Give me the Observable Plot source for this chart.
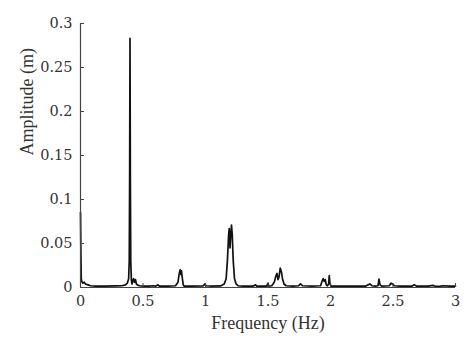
<!DOCTYPE html>
<html>
<head>
<meta charset="utf-8">
<script src="https://cdn.jsdelivr.net/npm/d3@7"></script>
<script src="https://cdn.jsdelivr.net/npm/@observablehq/plot@0.6"></script>
<style>
  html, body { margin: 0; padding: 0; background: #fff; }
</style>
</head>
<body>
<div id="chart"></div>
<script>
const freq = [0, 0.003, 0.006, 0.012, 0.02, 0.03, 0.04, 0.06, 0.08, 0.12, 0.2, 0.28, 0.33, 0.36, 0.375, 0.385, 0.39, 0.393, 0.396, 0.399, 0.402, 0.407, 0.412, 0.418, 0.425, 0.432, 0.44, 0.447, 0.455, 0.47, 0.5, 0.55, 0.58, 0.6, 0.62, 0.63, 0.7, 0.76, 0.78, 0.79, 0.797, 0.803, 0.808, 0.815, 0.822, 0.83, 0.9, 0.98, 0.995, 1.005, 1.05, 1.12, 1.15, 1.165, 1.175, 1.185, 1.19, 1.196, 1.202, 1.208, 1.214, 1.222, 1.232, 1.245, 1.26, 1.3, 1.38, 1.4, 1.41, 1.49, 1.5, 1.505, 1.53, 1.55, 1.563, 1.572, 1.58, 1.588, 1.598, 1.607, 1.616, 1.628, 1.645, 1.7, 1.745, 1.76, 1.775, 1.85, 1.92, 1.935, 1.942, 1.95, 1.958, 1.966, 1.975, 1.985, 1.99, 1.996, 2.005, 2.1, 2.28, 2.3, 2.315, 2.33, 2.36, 2.38, 2.388, 2.396, 2.41, 2.47, 2.485, 2.495, 2.51, 2.55, 2.65, 2.67, 2.69, 2.78, 2.82, 2.84, 2.88, 2.9, 2.95, 3.0];
const amplitude = [0.085, 0.04, 0.01, 0.006, 0.005, 0.006, 0.004, 0.003, 0.002, 0.0015, 0.0015, 0.0018, 0.002, 0.003, 0.005, 0.01, 0.03, 0.12, 0.283, 0.12, 0.03, 0.008, 0.004, 0.008, 0.01, 0.006, 0.009, 0.004, 0.003, 0.002, 0.0015, 0.0015, 0.002, 0.0015, 0.003, 0.0015, 0.0015, 0.002, 0.006, 0.016, 0.02, 0.015, 0.019, 0.01, 0.003, 0.0015, 0.0015, 0.0018, 0.004, 0.002, 0.0015, 0.0018, 0.004, 0.01, 0.03, 0.06, 0.067, 0.045, 0.06, 0.071, 0.06, 0.03, 0.01, 0.004, 0.002, 0.0015, 0.0015, 0.003, 0.0015, 0.0015, 0.005, 0.0015, 0.002, 0.006, 0.013, 0.016, 0.009, 0.012, 0.022, 0.018, 0.01, 0.004, 0.002, 0.0015, 0.002, 0.004, 0.002, 0.0015, 0.002, 0.008, 0.01, 0.007, 0.009, 0.003, 0.002, 0.004, 0.0135, 0.004, 0.0015, 0.0015, 0.0015, 0.003, 0.004, 0.002, 0.0015, 0.002, 0.0095, 0.003, 0.0015, 0.002, 0.005, 0.004, 0.002, 0.0015, 0.0015, 0.003, 0.0015, 0.0015, 0.0025, 0.0012, 0.0015, 0.002, 0.0015, 0.0015];
const xTicks = [0, 0.5, 1, 1.5, 2, 2.5, 3];
const xTickLabels = ["0", "0.5", "1", "1.5", "2", "2.5", "3"];
const yTicks = [0, 0.05, 0.1, 0.15, 0.2, 0.25, 0.3];
const yTickLabels = ["0", "0.05", "0.1", "0.15", "0.2", "0.25", "0.3"];
const xTitle = "Frequency (Hz)";
const yTitle = "Amplitude (m)";

const serif = '"Liberation Serif", "DejaVu Serif", serif';
const digitSerif = '"DejaVu Serif", serif';
const data = freq.map((f, i) => ({f, a: amplitude[i]}));

const chart = Plot.plot({
  width: 474,
  height: 355,
  marginLeft: 80,
  marginRight: 19,
  marginTop: 23,
  marginBottom: 68,
  style: {fontFamily: serif, fontSize: "16px", color: "#333", background: "#fff"},
  x: {domain: [0, 3]},
  y: {domain: [0, 0.3]},
  marks: [
    Plot.line(data, {x: "f", y: "a", stroke: "#111", strokeWidth: 1.7, curve: "linear"}),
    Plot.ruleX([0], {stroke: "#444", strokeWidth: 1.2}),
    Plot.ruleY([0], {stroke: "#444", strokeWidth: 1.2}),
    Plot.axisX({ticks: xTicks, tickFormat: (d) => xTickLabels[xTicks.indexOf(d)], tickSize: -4, tickPadding: 12, label: null, stroke: "#444", fill: "#333", fontSize: 14.5, fontFamily: digitSerif, fontVariant: "normal"}),
    Plot.axisY({ticks: yTicks, tickFormat: (d) => yTickLabels[yTicks.indexOf(d)], tickSize: -4, tickPadding: 12, label: null, stroke: "#444", fill: "#333", fontSize: 14.5, fontFamily: digitSerif, fontVariant: "normal"}),
    Plot.text([xTitle], {frameAnchor: "bottom", dy: 41, fontSize: 18, fill: "#333", fontFamily: serif}),
    Plot.text([yTitle], {frameAnchor: "left", dx: -53, rotate: -90, fontSize: 18, fill: "#333", fontFamily: serif})
  ]
});
document.getElementById("chart").appendChild(chart);
</script>
</body>
</html>
